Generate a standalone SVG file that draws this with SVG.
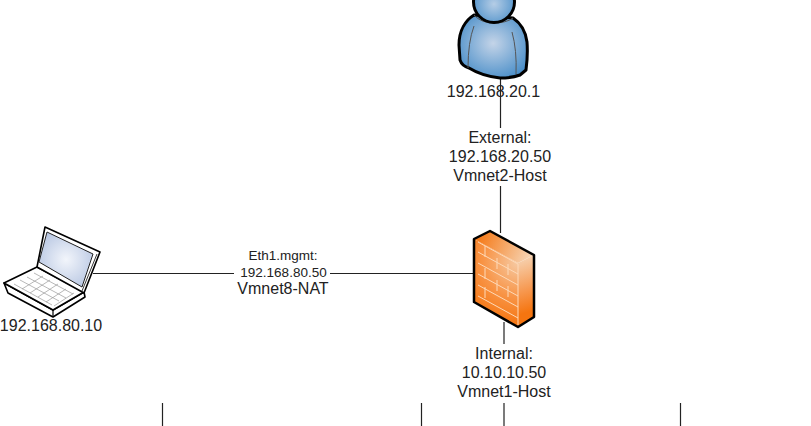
<svg xmlns="http://www.w3.org/2000/svg" width="811" height="426" viewBox="0 0 811 426">
<style>
text{font-family:"Liberation Sans",Arial,sans-serif;fill:#222;text-anchor:middle;font-size:16px}
.s{font-size:13.5px}
.c line{stroke:#222;stroke-width:1.2;fill:none}
.o{stroke:#000;stroke-width:3;stroke-linejoin:round}
.l{stroke:#000;stroke-width:1.600;stroke-linejoin:round;fill:#fff}
.brick{stroke:#fdd9b8;stroke-width:1;fill:none}
</style>
<defs>
<radialGradient id="pb" cx="50%" cy="45%" r="60%"><stop offset="0" stop-color="#c4d4e8"/><stop offset="1" stop-color="#4b8fc9"/></radialGradient>
<radialGradient id="ph" cx="50%" cy="55%" r="60%"><stop offset="0" stop-color="#b5cde6"/><stop offset="1" stop-color="#4b8fc9"/></radialGradient>
<radialGradient id="fw" gradientUnits="userSpaceOnUse" cx="517" cy="263" r="62"><stop offset="0" stop-color="#f6c8a0"/><stop offset=".55" stop-color="#f89446"/><stop offset="1" stop-color="#f57510"/></radialGradient>
<linearGradient id="ft" gradientUnits="userSpaceOnUse" x1="480" y1="236" x2="530" y2="258"><stop offset="0" stop-color="#f57b1a"/><stop offset="1" stop-color="#f6d4b4"/></linearGradient>
<linearGradient id="fs" gradientUnits="userSpaceOnUse" x1="518" y1="262" x2="534" y2="310"><stop offset="0" stop-color="#f6cda8"/><stop offset=".6" stop-color="#f7964c"/><stop offset="1" stop-color="#f57510"/></linearGradient>
<radialGradient id="sc" cx="50%" cy="50%" r="60%"><stop offset="0" stop-color="#f2f5fb"/><stop offset="1" stop-color="#b7c6e2"/></radialGradient>
</defs>
<g class="c" id="connectors">
<line x1="500.500" y1="78" x2="500.500" y2="128"/>
<line x1="500.500" y1="186" x2="500.500" y2="233"/>
<line x1="93" y1="273.500" x2="234" y2="273.500"/>
<line x1="330" y1="273.500" x2="474" y2="273.500"/>
<line x1="504" y1="322" x2="504" y2="344"/>
<line x1="162.500" y1="403" x2="162.500" y2="426"/>
<line x1="421.500" y1="403" x2="421.500" y2="426"/>
<line x1="504" y1="403" x2="504" y2="426"/>
<line x1="680.500" y1="403" x2="680.500" y2="426"/>
</g>
<g id="user">
<path class="o" fill="url(#pb)" d="M474 15C466 20 459 30 459 45L460 60Q462 66 469 68Q482 76 500 78Q512 78 520 75L526 70Q528 55 527 42Q525 26 513 18Z"/>
<path d="M474 15Q481 23 494 23Q506 23 513 18" fill="none" stroke="#555" stroke-width="1"/>
<circle class="o" cx="494" cy="2" r="20.500" fill="url(#ph)"/>
<path d="M474 26Q468 42 468 68M512 32Q517 50 516 74" fill="none" stroke="#555" stroke-width="1"/>
<text x="493.500" y="97">192.168.20.1</text>
</g>
<g id="laptop">
<path class="l" d="M4 283L8 293L53 317L85 297L84 292L53 310Z"/>
<path class="l" d="M4 283L37 267L84 292L53 310Z"/>
<path d="M53 310V317" stroke="#000" stroke-width="1.200"/>
<path class="l" stroke-width="2" d="M45 227L100 252L84 293L37 267Z"/>
<path fill="none" stroke="#000" stroke-width=".8" d="M97 254L82 291"/>
<path fill="url(#sc)" stroke="#222" stroke-width="1" d="M47 232L93 254L82 287L39 262Z"/>
<path fill="none" stroke="#999" stroke-width=".7" d="M14 284L52 305M20 280L59 301M27 277L66 298M34 273L73 294M22 289L43 276M30 293L50 280M38 297L58 284M46 302L66 289M54 306L74 293"/>
<text x="51" y="331">192.168.80.10</text>
</g>
<g id="firewall">
<path fill="url(#fw)" d="M474 239L518 263V327L474 302Z"/>
<path fill="url(#ft)" d="M474 239L490 231L534 255L518 263Z"/>
<path fill="url(#fs)" d="M518 263L534 255V317L518 327Z"/>
<path class="brick" d="M478 242L518 264M478 252L518 274M478 263L518 285M478 274L518 296M478 285L518 307M478 296L518 318M518 264V325M485 246V257M497 258V269M508 264V275M485 268V279M497 280V291M508 286V297M485 287V298"/>
<path fill="none" stroke="#000" stroke-width="2.500" stroke-linejoin="round" d="M474 239L490 231L534 255V317L518 327L474 302Z"/>
</g>
<g id="labels">
<text x="500" y="143">External:</text>
<text x="500" y="162">192.168.20.50</text>
<text x="500" y="181">Vmnet2-Host</text>
<text class="s" x="283" y="260">Eth1.mgmt:</text>
<text class="s" x="283.500" y="277">192.168.80.50</text>
<text x="283" y="294">Vmnet8-NAT</text>
<text x="504" y="359">Internal:</text>
<text x="504" y="378">10.10.10.50</text>
<text x="504" y="397">Vmnet1-Host</text>
</g>
</svg>
